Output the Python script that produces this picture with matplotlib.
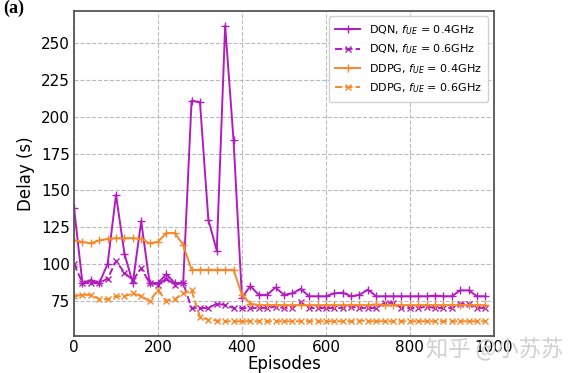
import matplotlib.pyplot as plt
import numpy as np

# episodios (a cada 20)
episodes = np.arange(0, 1000, 20)

dqn_04 = [138, 87, 89, 87, 100, 147, 107, 87, 129, 87,
          87, 93, 87, 87, 211, 210, 130, 109, 262, 184,
          77, 85, 79, 79, 84, 79, 80, 83, 78, 78,
          78, 80, 80.5, 78, 79, 82.5, 78, 78, 78, 78,
          78, 78, 78, 78.5, 78, 78, 82, 82, 78, 78]
dqn_06 = [100, 87, 87, 87, 90, 102, 94, 89, 97, 87,
          86, 90, 86, 87, 70, 70, 70, 73, 72, 70,
          70, 70, 70, 70, 71, 70, 70, 74, 70, 70,
          70, 70, 70, 71, 70, 70, 70, 73.5, 73.5, 70,
          70, 70, 71, 70, 70, 70, 73, 73, 70, 70]
ddpg_04 = [116, 115, 114, 116, 117, 117.5, 117.5, 117.5, 117, 114,
           115, 121, 121, 113, 96, 96, 96, 96, 96, 96,
           79, 73, 72, 72, 72, 72, 72, 72, 72, 72,
           72, 72, 72, 72, 72, 72, 72.5, 72, 72, 72,
           72, 72, 72, 72, 72, 72, 72, 72, 72, 72]
ddpg_06 = [78, 79, 79, 76, 76, 78, 78, 80, 78, 75,
           82, 75, 76, 80, 82, 64, 62, 61.5, 61, 61,
           61, 61, 61, 61, 61, 61, 61, 61, 61, 61,
           61, 61, 61, 61, 61.5, 61, 61, 61, 61, 61,
           61, 61, 61, 61, 61, 61, 61, 61, 61, 61]

roxo = '#b01cbd'
laranja = '#f5892a'

fig = plt.figure(figsize=(5.83, 3.73), dpi=100)
ax = fig.add_axes([0.127, 0.099, 0.72, 0.872])

ax.plot(episodes, dqn_04, '-', marker='+', color=roxo, lw=1.4, ms=6,
        label=r'DQN, $f_{UE}$ = 0.4GHz')
ax.plot(episodes, dqn_06, '--', marker='x', color=roxo, lw=1.4, ms=5,
        label=r'DQN, $f_{UE}$ = 0.6GHz')
ax.plot(episodes, ddpg_04, '-', marker='+', color=laranja, lw=1.4, ms=6,
        label=r'DDPG, $f_{UE}$ = 0.4GHz')
ax.plot(episodes, ddpg_06, '--', marker='x', color=laranja, lw=1.4, ms=5,
        label=r'DDPG, $f_{UE}$ = 0.6GHz')

ax.set_xlim(0, 1000)
ax.set_xticks(np.arange(0, 1001, 200))
ax.set_yticks(np.arange(75, 251, 25))
ax.tick_params(labelsize=11, length=0, pad=3)
ax.grid(True, linestyle='--', color='#bbbbbb', lw=0.8)

ax.set_xlabel('Episodes', fontsize=12, labelpad=0)
ax.set_ylabel('Delay (s)', fontsize=12)

for s in ax.spines.values():
    s.set_color('#555555')
    s.set_linewidth(1.3)

ax.legend(loc='upper right', fontsize=8, framealpha=0.9, handlelength=2.2,
          borderpad=0.6, labelspacing=0.5)

fig.text(0.005, 0.965, '(a)', fontsize=13, fontweight='bold',
         family='Liberation Serif')
# marca d'agua
fig.text(0.73, 0.045, '知乎 @小苏苏', fontsize=16, color='#d0d0d0',
         family=['Noto Sans CJK SC', 'DejaVu Sans'])

fig.savefig('out.png', dpi=100)
